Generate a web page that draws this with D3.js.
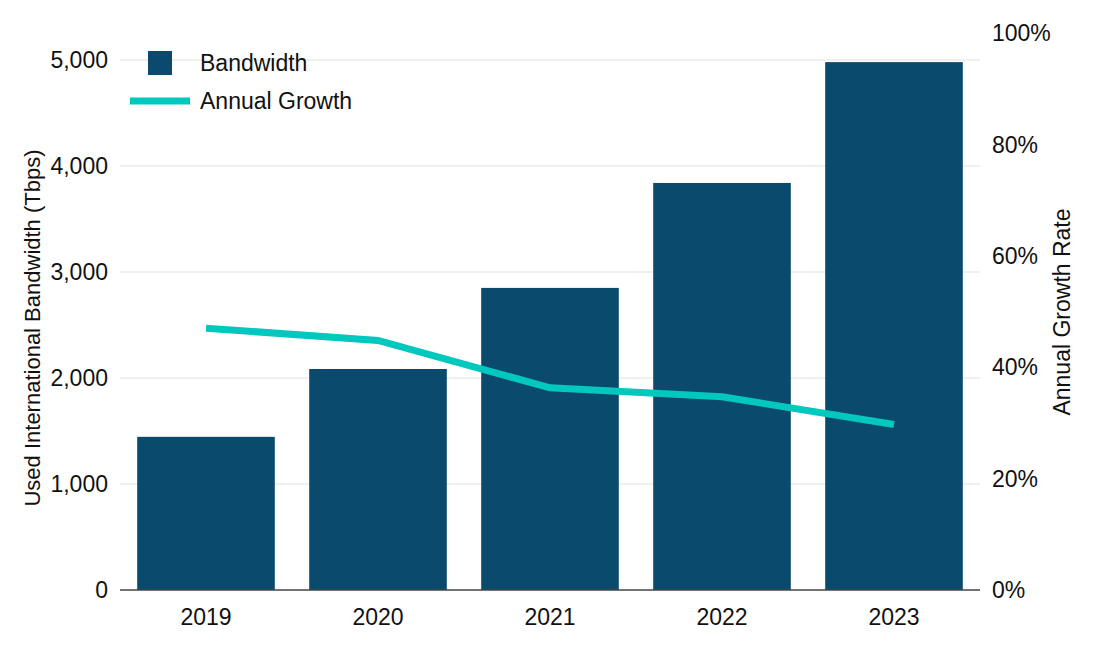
<!DOCTYPE html>
<html>
<head>
<meta charset="utf-8">
<script src="https://cdn.jsdelivr.net/npm/d3@7"></script>
<style>
  body { margin: 0; background: #fff; }
  text { font-family: "Liberation Sans", Arial, sans-serif; fill: #111; }
</style>
</head>
<body>
<div id="chart"></div>
<script>
const years = ['2019', '2020', '2021', '2022', '2023'];
const bandwidth = [1445, 2085, 2850, 3840, 4980];
const growth = [0.470, 0.448, 0.363, 0.347, 0.297];
const leftTicks = [0, 1000, 2000, 3000, 4000, 5000];
const rightTicks = [0, 0.2, 0.4, 0.6, 0.8, 1.0];

const width = 1100, height = 660;
const left = 120, right = 980, bottom = 590;
const fs = 23;

const svg = d3.select('#chart').append('svg')
  .attr('width', width)
  .attr('height', height);

const x = d3.scaleBand().domain(years).range([left, right])
  .paddingInner(0.2).paddingOuter(0.1);
const y = d3.scaleLinear().domain([0, 5000]).range([bottom, 60]);
const y2 = d3.scaleLinear().domain([0, 1]).range([bottom, 33]);

// gridlines
svg.append('g')
  .selectAll('line')
  .data(leftTicks.slice(1))
  .join('line')
  .attr('x1', left).attr('x2', right)
  .attr('y1', d => y(d)).attr('y2', d => y(d))
  .attr('stroke', '#ebebeb')
  .attr('stroke-width', 1.5);

// bars
svg.append('g')
  .selectAll('rect')
  .data(years)
  .join('rect')
  .attr('x', d => x(d))
  .attr('width', x.bandwidth())
  .attr('y', (d, i) => y(bandwidth[i]))
  .attr('height', (d, i) => bottom - y(bandwidth[i]))
  .attr('fill', '#0a4a6d');

// x axis line
svg.append('line')
  .attr('x1', left).attr('x2', right)
  .attr('y1', bottom).attr('y2', bottom)
  .attr('stroke', '#444').attr('stroke-width', 1.5);

// growth line
const line = d3.line()
  .x((d, i) => x(years[i]) + x.bandwidth() / 2)
  .y(d => y2(d));
svg.append('path')
  .datum(growth)
  .attr('d', line)
  .attr('fill', 'none')
  .attr('stroke', '#00c8be')
  .attr('stroke-width', 7);

// left axis labels
svg.append('g')
  .selectAll('text')
  .data(leftTicks)
  .join('text')
  .attr('x', 108)
  .attr('y', d => y(d))
  .attr('dy', '0.36em')
  .attr('text-anchor', 'end')
  .attr('font-size', fs)
  .text(d => d3.format(',')(d));

// right axis labels
svg.append('g')
  .selectAll('text')
  .data(rightTicks)
  .join('text')
  .attr('x', 992)
  .attr('y', d => y2(d))
  .attr('dy', '0.36em')
  .attr('font-size', fs)
  .text(d => d3.format('.0%')(d));

// x labels
svg.append('g')
  .selectAll('text')
  .data(years)
  .join('text')
  .attr('x', d => x(d) + x.bandwidth() / 2)
  .attr('y', 617)
  .attr('dy', '0.36em')
  .attr('text-anchor', 'middle')
  .attr('font-size', fs)
  .text(d => d);

// axis titles
svg.append('text')
  .attr('transform', 'translate(40,328) rotate(-90)')
  .attr('text-anchor', 'middle')
  .attr('font-size', 22)
  .text('Used International Bandwidth (Tbps)');

svg.append('text')
  .attr('transform', 'translate(1070,312) rotate(-90)')
  .attr('text-anchor', 'middle')
  .attr('font-size', fs)
  .text('Annual Growth Rate');

// legend
const legend = svg.append('g');
legend.append('rect')
  .attr('x', 148).attr('y', 51)
  .attr('width', 24).attr('height', 24)
  .attr('fill', '#0a4a6d');
legend.append('text')
  .attr('x', 200).attr('y', 63).attr('dy', '0.36em')
  .attr('font-size', fs)
  .text('Bandwidth');
legend.append('line')
  .attr('x1', 130).attr('x2', 190)
  .attr('y1', 101).attr('y2', 101)
  .attr('stroke', '#00c8be').attr('stroke-width', 7);
legend.append('text')
  .attr('x', 200).attr('y', 101).attr('dy', '0.36em')
  .attr('font-size', fs)
  .text('Annual Growth');
</script>
</body>
</html>
